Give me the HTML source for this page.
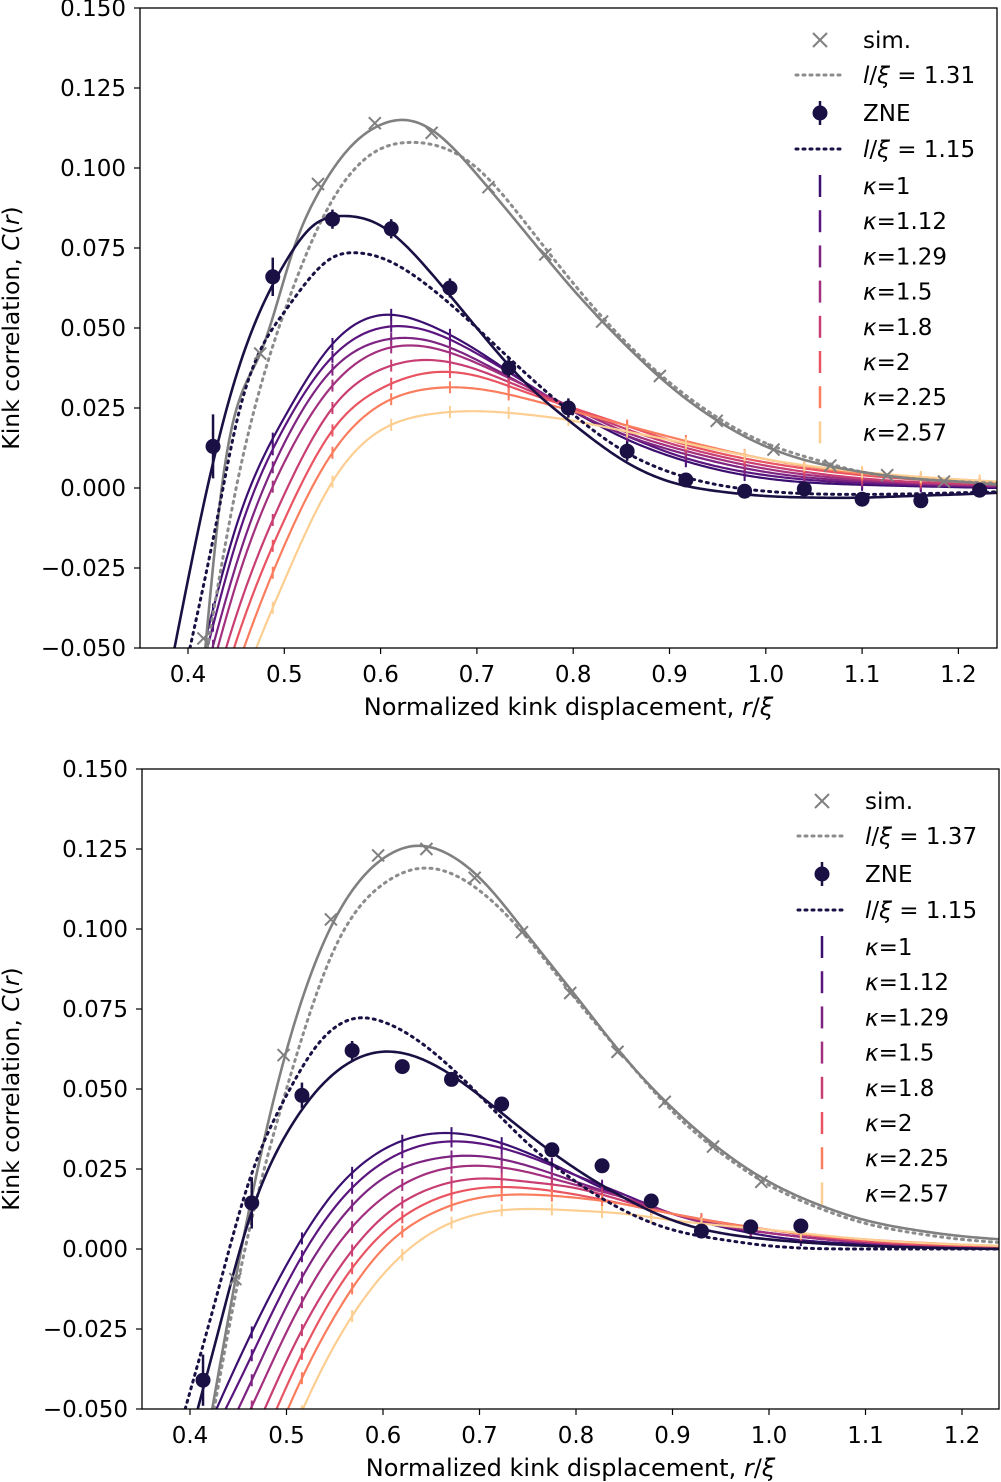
<!DOCTYPE html>
<html><head><meta charset="utf-8"><style>
html,body{margin:0;background:#fff;overflow:hidden;width:1001px;height:1482px}
svg{display:block;font-family:"DejaVu Sans","Liberation Sans",sans-serif}
</style></head><body>
<svg id="svg" width="1001" height="1482" viewBox="0 0 1001 1482"></svg>
<script>
// ---------- DATA ----------
const yTicks = [-0.05,-0.025,0,0.025,0.05,0.075,0.1,0.125,0.15];
const yTickLabels = ["\u22120.050","\u22120.025","0.000","0.025","0.050","0.075","0.100","0.125","0.150"];
const xTicks = [0.4,0.5,0.6,0.7,0.8,0.9,1.0,1.1,1.2];
const xTickLabels = ["0.4","0.5","0.6","0.7","0.8","0.9","1.0","1.1","1.2"];
const kappaLabels = ["1","1.12","1.29","1.5","1.8","2","2.25","2.57"];
const kappaColors = ["#3b0f70","#5a167e","#7d2482","#a3307e","#c83e73","#e95462","#fa7d5e","#fcce91"];
const kGrid = [0.42,0.45,0.5,0.55,0.6,0.65,0.7,0.75,0.8,0.85,0.9,1.0,1.1,1.24];

// top chart
const topSimX = [0.416,0.475,0.535,0.594,0.653,0.712,0.771,0.830,0.890,0.949,1.008,1.067,1.126,1.185];
const topSimY = [-0.047,0.042,0.095,0.114,0.111,0.094,0.073,0.052,0.035,0.021,0.012,0.007,0.004,0.002];
const topSimFitX = [0.418,0.435,0.475,0.51,0.535,0.57,0.6,0.625,0.65,0.7,0.75,0.8,0.85,0.9,0.95,1.0,1.05,1.1,1.15,1.2,1.24];
const topSimFitY = [-0.05,0,0.042,0.075,0.092,0.107,0.1135,0.115,0.1125,0.098,0.080,0.062,0.046,0.032,0.021,0.013,0.008,0.005,0.003,0.002,0.001];
const topSimDotX = [0.42,0.45,0.5,0.55,0.6,0.63,0.7,0.75,0.8,0.85,0.9,0.95,1.0,1.05,1.1,1.15,1.2,1.24];
const topSimDotY = [-0.05,0.0,0.055,0.090,0.106,0.108,0.100,0.083,0.064,0.047,0.033,0.022,0.014,0.009,0.005,0.003,0.002,0.0015];
const topZneX = [0.426,0.488,0.550,0.611,0.672,0.733,0.795,0.856,0.917,0.978,1.040,1.100,1.161,1.222];
const topZneY = [0.013,0.066,0.084,0.081,0.0625,0.0375,0.025,0.0115,0.0025,-0.001,-0.0003,-0.0035,-0.004,-0.0007];
const topZneErr = [0.010,0.006,0.003,0.003,0.003,0.003,0.003,0.003,0.002,0.002,0.002,0.002,0.002,0.002];
const topZneFitX = [0.386,0.42,0.45,0.5,0.53,0.56,0.6,0.65,0.7,0.75,0.8,0.85,0.9,0.95,1.0,1.05,1.1,1.15,1.2,1.24];
const topZneFitY = [-0.05,0.0,0.035,0.070,0.082,0.085,0.082,0.068,0.050,0.033,0.020,0.009,0.002,-0.001,-0.0025,-0.003,-0.003,-0.0025,-0.002,-0.0015];
const topZneDotX = [0.402,0.43,0.45,0.5,0.55,0.575,0.6,0.65,0.7,0.75,0.8,0.85,0.9,0.95,1.0,1.1,1.2,1.24];
const topZneDotY = [-0.05,-0.01,0.02,0.055,0.072,0.0735,0.072,0.063,0.050,0.036,0.023,0.012,0.005,0.001,-0.001,-0.002,-0.0015,-0.0012];
const topK = [
 [-0.045,-0.012,0.022,0.045,0.054,0.051,0.043,0.033,0.024,0.016,0.010,0.003,0.001,0.0],
 [-0.05,-0.017,0.019,0.041,0.050,0.049,0.042,0.033,0.024,0.017,0.011,0.004,0.0015,0.0003],
 [-0.056,-0.024,0.014,0.037,0.046,0.046,0.040,0.032,0.024,0.017,0.012,0.005,0.002,0.0005],
 [-0.062,-0.030,0.008,0.032,0.043,0.044,0.039,0.032,0.025,0.018,0.013,0.006,0.0025,0.0007],
 [-0.07,-0.040,-0.002,0.025,0.037,0.040,0.037,0.031,0.025,0.019,0.014,0.007,0.003,0.001],
 [-0.078,-0.048,-0.010,0.018,0.031,0.036,0.035,0.030,0.025,0.020,0.015,0.008,0.004,0.0012],
 [-0.085,-0.057,-0.018,0.011,0.026,0.031,0.031,0.028,0.024,0.020,0.016,0.009,0.0045,0.0015],
 [-0.095,-0.067,-0.029,0.002,0.018,0.023,0.024,0.023,0.021,0.018,0.015,0.009,0.005,0.002]
];
// bottom chart
const botSimX = [0.447,0.497,0.546,0.595,0.645,0.695,0.744,0.794,0.843,0.892,0.942,0.992];
const botSimY = [-0.0094,0.0606,0.103,0.123,0.125,0.116,0.099,0.080,0.0616,0.046,0.032,0.021];
const botSimFitX = [0.423,0.45,0.5,0.55,0.6,0.635,0.67,0.7,0.75,0.8,0.85,0.9,0.95,1.0,1.05,1.1,1.15,1.2,1.24];
const botSimFitY = [-0.05,-0.005,0.062,0.103,0.122,0.126,0.123,0.116,0.098,0.079,0.060,0.044,0.031,0.021,0.014,0.009,0.006,0.004,0.003];
const botSimDotX = [0.425,0.45,0.5,0.55,0.6,0.64,0.7,0.75,0.8,0.85,0.9,0.95,1.0,1.05,1.1,1.15,1.2,1.24];
const botSimDotY = [-0.05,-0.01,0.05,0.094,0.114,0.119,0.112,0.097,0.078,0.060,0.043,0.030,0.020,0.013,0.008,0.005,0.003,0.002];
const botZneX = [0.4135,0.464,0.516,0.568,0.620,0.671,0.723,0.775,0.827,0.878,0.930,0.981,1.033];
const botZneY = [-0.041,0.0144,0.048,0.062,0.057,0.053,0.0453,0.031,0.026,0.015,0.0056,0.0069,0.0072];
const botZneErr = [0.008,0.008,0.004,0.003,0.002,0.002,0.002,0.002,0.002,0.002,0.002,0.002,0.002];
const botZneFitX = [0.408,0.43,0.46,0.5,0.55,0.595,0.65,0.7,0.75,0.8,0.85,0.9,0.95,1.0,1.1,1.24];
const botZneFitY = [-0.05,-0.025,0.008,0.036,0.055,0.0615,0.058,0.048,0.036,0.025,0.016,0.009,0.005,0.003,0.001,0.0];
const botZneDotX = [0.395,0.43,0.46,0.5,0.53,0.57,0.6,0.65,0.7,0.75,0.8,0.85,0.9,0.95,1.0,1.1,1.24];
const botZneDotY = [-0.05,-0.012,0.02,0.048,0.063,0.072,0.071,0.062,0.048,0.033,0.021,0.012,0.006,0.003,0.001,0.0,0.0];
const botK = [
 [-0.055,-0.035,-0.005,0.018,0.031,0.036,0.035,0.030,0.023,0.016,0.011,0.004,0.0015,0.0003],
 [-0.06,-0.042,-0.011,0.013,0.027,0.033,0.033,0.029,0.023,0.017,0.011,0.005,0.002,0.0004],
 [-0.068,-0.05,-0.018,0.007,0.022,0.028,0.029,0.026,0.021,0.016,0.011,0.005,0.002,0.0005],
 [-0.075,-0.058,-0.026,0.000,0.016,0.024,0.026,0.024,0.020,0.016,0.011,0.005,0.002,0.0006],
 [-0.085,-0.068,-0.035,-0.008,0.010,0.019,0.022,0.021,0.019,0.015,0.011,0.006,0.0025,0.0007],
 [-0.095,-0.077,-0.043,-0.014,0.005,0.015,0.019,0.019,0.017,0.014,0.011,0.006,0.0025,0.0008],
 [-0.105,-0.087,-0.051,-0.021,0.000,0.011,0.016,0.017,0.016,0.014,0.011,0.006,0.003,0.0009],
 [-0.12,-0.1,-0.062,-0.030,-0.008,0.005,0.011,0.0125,0.012,0.011,0.009,0.006,0.003,0.001]
];

// ---------- DRAWING ----------
const NS="http://www.w3.org/2000/svg";
const svg=document.getElementById('svg');
function mk(tag,attrs,parent){const e=document.createElementNS(NS,tag);for(const k in attrs)e.setAttribute(k,attrs[k]);(parent||svg).appendChild(e);return e;}
function spline(xs,ys){
  const n=xs.length,h=[],a=[],l=[1],mu=[0],z=[0],c=new Array(n).fill(0),b=[],d=[];
  for(let i=0;i<n-1;i++)h[i]=xs[i+1]-xs[i];
  for(let i=1;i<n-1;i++)a[i]=3/h[i]*(ys[i+1]-ys[i])-3/h[i-1]*(ys[i]-ys[i-1]);
  for(let i=1;i<n-1;i++){l[i]=2*(xs[i+1]-xs[i-1])-h[i-1]*mu[i-1];mu[i]=h[i]/l[i];z[i]=(a[i]-h[i-1]*z[i-1])/l[i];}
  l[n-1]=1;z[n-1]=0;
  for(let j=n-2;j>=0;j--){c[j]=z[j]-mu[j]*c[j+1];b[j]=(ys[j+1]-ys[j])/h[j]-h[j]*(c[j+1]+2*c[j])/3;d[j]=(c[j+1]-c[j])/(3*h[j]);}
  return x=>{let j=0;while(j<n-2&&x>xs[j+1])j++;const t=x-xs[j];return ys[j]+b[j]*t+c[j]*t*t+d[j]*t*t*t;};
}
function curvePath(xs,ys,X,Y){
  const f=spline(xs,ys);const x0=xs[0],x1=xs[xs.length-1];let d="";
  for(let i=0;i<=300;i++){const x=x0+(x1-x0)*i/300;d+=(i?"L":"M")+X(x).toFixed(2)+","+Y(f(x)).toFixed(2);}
  return d;
}
function chart(c){
  const X=v=>c.x0+(v-0.4)*c.xs, Y=v=>c.yz-v*3200;
  const g=mk('g',{});
  
  
  const cid='clip'+c.id;
  const defs=mk('defs',{},g);
  const cp=mk('clipPath',{id:cid},defs);
  mk('rect',{x:c.L,y:c.T,width:c.R-c.L,height:c.B-c.T},cp);
  const plot=mk('g',{'clip-path':'url(#'+cid+')'},g);
  
  
  c.K.forEach((row,i)=>{
    const p=mk('path',{d:curvePath(kGrid,row,X,Y),fill:'none',stroke:kappaColors[i],'stroke-width':2.2},plot);
    
    
    const f=spline(kGrid,row);
    c.zx.forEach(x=>{
      if(x<kGrid[0]||x>1.24)return;
      const v=f(x);
      const e=mk('line',{x1:X(x),x2:X(x),y1:Y(v)-6,y2:Y(v)+6,stroke:kappaColors[i],'stroke-width':2},plot);
      
      
    });
  });
  const line=(xs,ys,col,dash,nm)=>{
    const p=mk('path',{d:curvePath(xs,ys,X,Y),fill:'none',stroke:col,'stroke-width':dash?3:2.6},plot);
    if(dash){p.setAttribute('stroke-dasharray','2,5');p.setAttribute('stroke-linecap','round');}
    
    
  };
  line(c.sdx,c.sdy,'#8c8c8c',true,'sim-fit-dotted');
  line(c.sfx,c.sfy,'#808080',false,'sim-curve');
  line(c.zdx,c.zdy,'#1b1044',true,'zne-fit-dotted');
  line(c.zfx,c.zfy,'#1b1044',false,'zne-curve');
  c.sx.forEach((x,j)=>{
    const px=X(x),py=Y(c.sy[j]);
    const p=mk('path',{d:`M${px-6},${py-6}L${px+6},${py+6}M${px-6},${py+6}L${px+6},${py-6}`,stroke:'#808080','stroke-width':2,fill:'none'},plot);
    
    
  });
  c.zx.forEach((x,j)=>{
    const px=X(x),py=Y(c.zy[j]),e=c.ze[j]*3200;
    const l=mk('line',{x1:px,x2:px,y1:py-e,y2:py+e,stroke:'#1b1044','stroke-width':2.5},plot);
    
    
    const ci=mk('circle',{cx:px,cy:py,r:7.5,fill:'#1b1044'},plot);
    
    
  });
  const fr=mk('rect',{x:c.L,y:c.T,width:c.R-c.L,height:c.B-c.T,fill:'none',stroke:'#000','stroke-width':1.3},g);
  
  
  yTicks.forEach((v,i)=>{
    mk('line',{x1:c.L-6,x2:c.L,y1:Y(v),y2:Y(v),stroke:'#000','stroke-width':1.2},g);
    const t=mk('text',{x:c.L-14,y:Y(v)+8,'text-anchor':'end','font-size':23},g);
    t.textContent=yTickLabels[i];
    
    
  });
  xTicks.forEach((v,i)=>{
    mk('line',{x1:X(v),x2:X(v),y1:c.B,y2:c.B+6,stroke:'#000','stroke-width':1.2},g);
    const t=mk('text',{x:X(v),y:c.B+34,'text-anchor':'middle','font-size':23},g);
    t.textContent=xTickLabels[i];
    
    
  });
  const xl=mk('text',{x:(c.L+c.R)/2,y:c.B+67,'text-anchor':'middle','font-size':24},g);
  xl.innerHTML='Normalized kink displacement, <tspan font-style="italic">r</tspan>/<tspan font-style="italic">ξ</tspan>';
  
  
  const yl=mk('text',{x:0,y:0,'text-anchor':'middle','font-size':23.5,transform:`translate(19,${(c.T+c.B)/2}) rotate(-90)`},g);
  yl.innerHTML='Kink correlation, <tspan font-style="italic">C</tspan>(<tspan font-style="italic">r</tspan>)';
  
  
  const lg=mk('g',{},g);
  
  
  const mx=c.lx, tx=c.lx+43;
  const rows=c.ly;
  const txt=(y,html)=>{const t=mk('text',{x:tx,y:y+8,'font-size':23},lg);t.innerHTML=html;};
  let y=rows[0];
  mk('path',{d:`M${mx-7},${y-7}L${mx+7},${y+7}M${mx-7},${y+7}L${mx+7},${y-7}`,stroke:'#808080','stroke-width':2},lg);txt(y,'sim.');
  y=rows[1];mk('line',{x1:mx-24,x2:mx+24,y1:y,y2:y,stroke:'#8c8c8c','stroke-width':3,'stroke-dasharray':'2,5','stroke-linecap':'round'},lg);
  txt(y,'<tspan font-style="italic">l</tspan>/<tspan font-style="italic">ξ</tspan> = '+c.simL);
  y=rows[2];mk('line',{x1:mx,x2:mx,y1:y-12,y2:y+12,stroke:'#1b1044','stroke-width':2.5},lg);mk('circle',{cx:mx,cy:y,r:7.5,fill:'#1b1044'},lg);txt(y,'ZNE');
  y=rows[3];mk('line',{x1:mx-24,x2:mx+24,y1:y,y2:y,stroke:'#1b1044','stroke-width':3,'stroke-dasharray':'2,5','stroke-linecap':'round'},lg);
  txt(y,'<tspan font-style="italic">l</tspan>/<tspan font-style="italic">ξ</tspan> = 1.15');
  kappaLabels.forEach((k,i)=>{
    const yy=rows[4]+i*c.kstep;
    mk('line',{x1:mx,x2:mx,y1:yy-11,y2:yy+11,stroke:kappaColors[i],'stroke-width':2.5},lg);
    txt(yy,'<tspan font-style="italic">κ</tspan>='+k);
  });
}
chart({id:1,name:'top-chart',L:140,R:997,T:8,B:648,x0:188,xs:963,yz:488,
  K:topK,sx:topSimX,sy:topSimY,sfx:topSimFitX,sfy:topSimFitY,sdx:topSimDotX,sdy:topSimDotY,
  zx:topZneX,zy:topZneY,ze:topZneErr,zfx:topZneFitX,zfy:topZneFitY,zdx:topZneDotX,zdy:topZneDotY,
  simL:'1.31',lx:820,ly:[40,75,113,149,186],kstep:35.2});
chart({id:2,name:'bottom-chart',L:142,R:999,T:769,B:1409,x0:190,xs:965,yz:1249,
  K:botK,sx:botSimX,sy:botSimY,sfx:botSimFitX,sfy:botSimFitY,sdx:botSimDotX,sdy:botSimDotY,
  zx:botZneX,zy:botZneY,ze:botZneErr,zfx:botZneFitX,zfy:botZneFitY,zdx:botZneDotX,zdy:botZneDotY,
  simL:'1.37',lx:822,ly:[801,836,874,910,947],kstep:35.2});
</script>
</body></html>
